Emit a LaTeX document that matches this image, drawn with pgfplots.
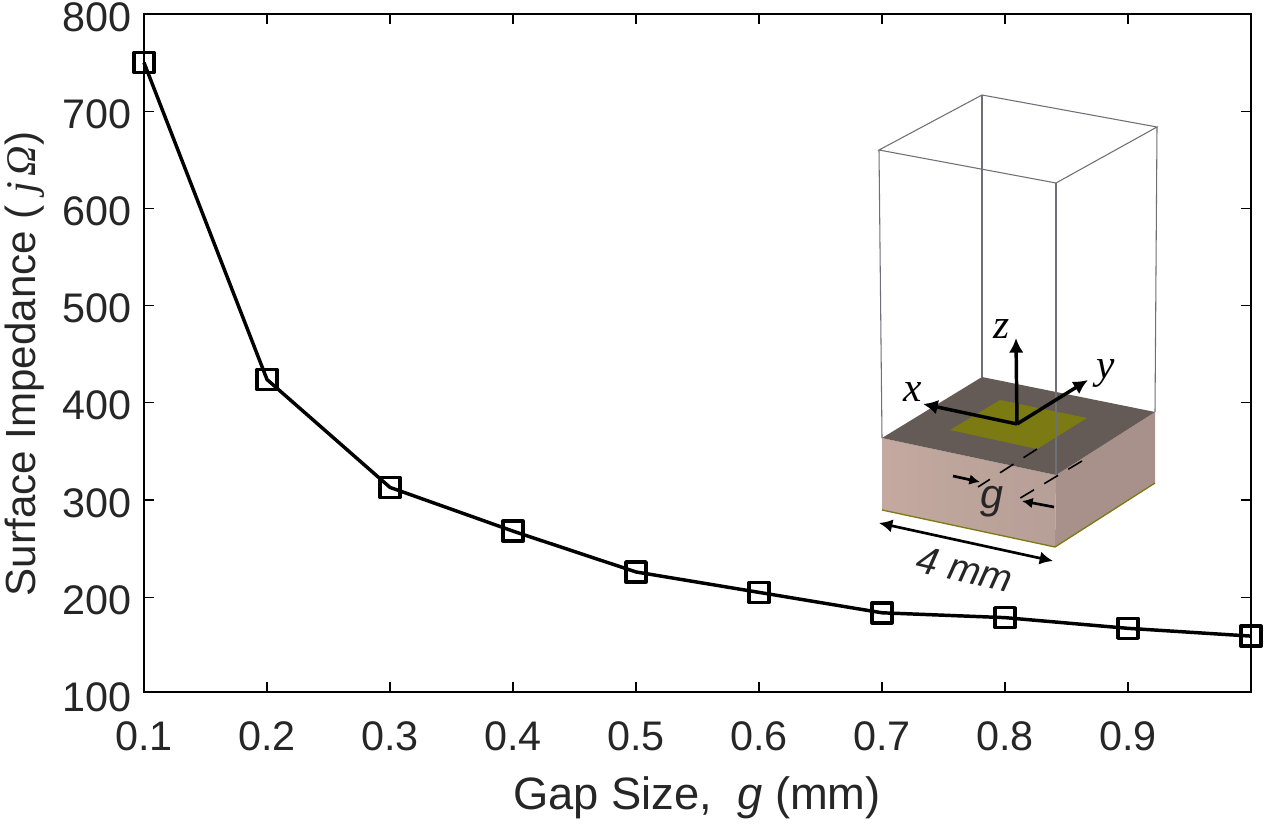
\documentclass[border=0pt]{standalone}
\usepackage{fontspec}
\setmainfont{Liberation Sans}
\newfontfamily\serifit{Liberation Serif}
\usepackage{pgfplots}
\pgfplotsset{compat=1.18}
\usetikzlibrary{arrows.meta}
\definecolor{inktext}{HTML}{262626}
\definecolor{slabfront}{HTML}{C6ADA4}
\definecolor{slabside}{HTML}{A8918A}
\definecolor{slabtop}{HTML}{645A56}
\definecolor{patch}{HTML}{7C7A12}
\definecolor{wire}{HTML}{6F6F78}
\begin{document}
\begin{tikzpicture}
\useasboundingbox (-108pt,-102.75pt) rectangle (843pt,519pt);
\begin{axis}[
  scale only axis,
  width=830.25pt, height=508.5pt,
  at={(0,0)}, anchor=south west,
  % the frame stops just above the 100 level in the reference
  xmin=0.1, xmax=1.0, ymin=102.5, ymax=800,
  xtick={0.1,0.2,0.3,0.4,0.5,0.6,0.7,0.8,0.9},
  xticklabels={0.1,0.2,0.3,0.4,0.5,0.6,0.7,0.8,0.9},
  ytick={200,300,400,500,600,700,800},
  /pgf/number format/assume math mode=true,
  tick align=inside, major tick length=7.5pt,
  tick style={black, line width=1pt},
  axis line style={black, line width=1.5pt},
  ticklabel style={font=\fontsize{31}{31}\selectfont, text=inktext},
  xticklabel style={yshift=-19pt},
  yticklabel style={xshift=-6pt, yshift=-2.2pt},
  clip=false,
  xlabel={Gap Size,\ \ \textit{g} (mm)},
  ylabel={Surface Impedance ( {\serifit\itshape j$\,$Ω})},
  xlabel style={font=\fontsize{34}{34}\selectfont, text=inktext, anchor=center,
    at={(axis description cs:0.4995,-0.156)}},
  ylabel style={font=\fontsize{31.6}{31.6}\selectfont, text=inktext, anchor=center,
    at={(axis description cs:-0.108,0.484)}},
]
\addplot[black, line width=2.6pt, line join=round, mark=square, mark size=7.5pt,
  mark options={line width=2.6pt, solid}] coordinates {
  (0.1,750) (0.2,424) (0.3,313) (0.4,268) (0.5,226)
  (0.6,205) (0.7,184) (0.8,179) (0.9,168) (1.0,160)};
\node[anchor=east, font=\fontsize{31}{31}\selectfont, text=inktext,
  xshift=-6pt, yshift=-2.2pt, inner sep=0.333em] at (axis cs:0.1,100) {100};
\end{axis}
% inset sketch of the unit cell, in reference pixels
\begin{scope}[shift={(-108pt,519pt)}, x=0.75pt, y=-0.75pt]
  % air box, back edges
  \draw[wire, line width=0.8pt] (879,150) -- (982,95) -- (1157,127) -- (1056,183) -- cycle;
  \draw[wire, line width=0.8pt] (982,95) -- (982,377);
  % slab
  \shade[left color=slabfront!105!white, right color=slabfront!92!black] (882,438) -- (1056,475) -- (1055,547) -- (882,510) -- cycle;
  \fill[slabside] (1056,475) -- (1155,412) -- (1155,483) -- (1055,547) -- cycle;
  \fill[slabtop] (882,438) -- (982,377) -- (1155,412) -- (1056,475) -- cycle;
  \fill[patch] (950,430) -- (1000,400) -- (1087,418) -- (1037,449) -- cycle;
  \draw[patch, line width=1pt] (882,510) -- (1055,547) -- (1155,483);
  % air box, near edges
  \draw[wire, line width=0.8pt] (879,150) -- (882,438);
  \draw[wire, line width=0.8pt] (1056,183) -- (1056,475);
  \draw[wire, line width=0.8pt] (1157,127) -- (1155,412);
  % gap lines
  \draw[black, line width=1.2pt, dash pattern=on 12pt off 9pt] (1037,449) -- (978,487);
  \draw[black, line width=1.2pt, dash pattern=on 12pt off 9pt] (1082,461) -- (1012,503);
  % axes
  \draw[-{Latex[length=11pt,width=11pt]}, black, line width=2.6pt] (1017,424) -- (1016,338);
  \draw[-{Latex[length=11pt,width=11pt]}, black, line width=2.6pt] (1017,424) -- (1088,380);
  \draw[-{Latex[length=11pt,width=11pt]}, black, line width=2.6pt] (1017,424) -- (923,404);
  \node[font=\fontsize{31}{31}\selectfont\serifit\itshape] at (1002,329) {z};
  \node[font=\fontsize{31}{31}\selectfont\serifit\itshape] at (1106,373) {y};
  \node[font=\fontsize{31}{31}\selectfont\serifit\itshape] at (913,392) {x};
  % gap marker
  \draw[-{Latex[length=8pt,width=8pt]}, black, line width=2pt] (953,476) -- (980,482);
  \draw[-{Latex[length=8pt,width=8pt]}, black, line width=2pt] (1054,507) -- (1022,501);
  \node[font=\fontsize{31}{31}\selectfont\itshape, text=inktext] at (992,502) {g};
  % width marker
  \draw[{Latex[length=10pt,width=10pt]}-{Latex[length=10pt,width=10pt]}, black, line width=2pt] (879,523) -- (1053,561);
  \node[font=\fontsize{29}{29}\selectfont\itshape, text=inktext, rotate=-13] at (965,569) {4 mm};
\end{scope}
\end{tikzpicture}
\end{document}
